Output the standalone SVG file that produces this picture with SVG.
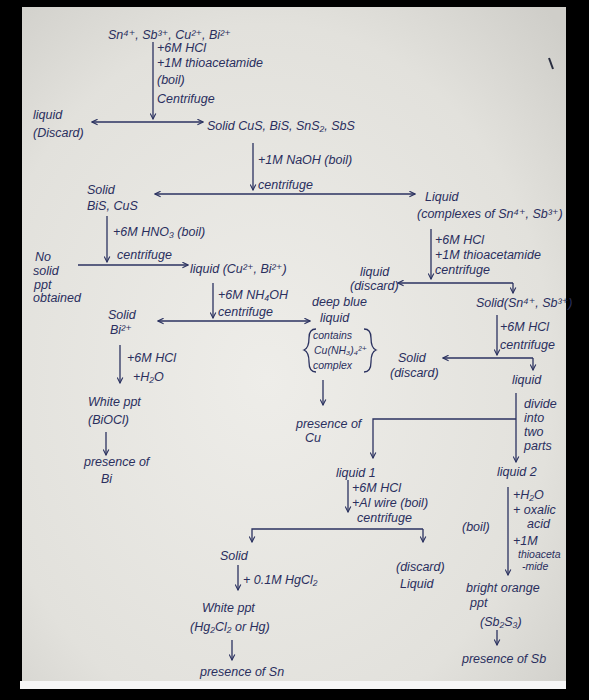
<svg xmlns="http://www.w3.org/2000/svg" width="589" height="700" viewBox="0 0 589 700">
<defs>
<radialGradient id="paper" cx="0.45" cy="0.55" r="0.75">
<stop offset="0" stop-color="#eeede9"/>
<stop offset="0.7" stop-color="#e2e1dc"/>
<stop offset="1" stop-color="#cfcec9"/>
</radialGradient>
<marker id="ah" viewBox="0 0 10 10" refX="9" refY="5" markerWidth="7" markerHeight="7" orient="auto" markerUnits="userSpaceOnUse">
<path d="M1,1 L9,5 L1,9" fill="none" stroke="#2b3260" stroke-width="1.6"/>
</marker>
<style>
.t{font-family:"Liberation Sans","DejaVu Sans",sans-serif;font-size:12.5px;fill:#2a2f5e;font-style:italic}
.s{font-size:10.5px}
.c{fill:none;stroke:#2b3260;stroke-width:1.3}
.a{marker-end:url(#ah)}
</style>
</defs>
<rect width="589" height="700" fill="#000"/>
<rect x="22" y="7" width="544" height="675" fill="url(#paper)"/>
<rect x="20" y="681" width="546" height="8" fill="#f6f6f6"/>
<path d="M549,58 L553,69" stroke="#2a2e40" stroke-width="2"/>

<g id="connectors">
<path class="c a" d="M153,42 V119"/>
<path class="c a" d="M153,122 H92"/>
<path class="c a" d="M153,122 H203"/>
<path class="c a" d="M253,143 V190"/>
<path class="c a" d="M253,194 H155"/>
<path class="c a" d="M253,194 H415"/>
<path class="c a" d="M107,216 V262"/>
<path class="c a" d="M78,265 H188"/>
<path class="c a" d="M431,229 V279"/>
<path class="c a" d="M513,283 H398"/>
<path class="c a" d="M513,283 V293"/>
<path class="c a" d="M213,283 V318"/>
<path class="c a" d="M213,321 H158"/>
<path class="c a" d="M213,321 H310"/>
<path class="c a" d="M120,345 V383"/>
<path class="c a" d="M106,432 V455"/>
<path class="c a" d="M323,380 V405"/>
<path class="c a" d="M497,315 V355"/>
<path class="c a" d="M533,358 H443"/>
<path class="c a" d="M533,358 V370"/>
<path class="c a" d="M516,393 V462"/>
<path class="c a" d="M516,419 H373 V458"/>
<path class="c a" d="M348,480 V512"/>
<path class="c a" d="M423,529 H252 V542"/>
<path class="c a" d="M423,529 V542"/>
<path class="c a" d="M238,565 V590"/>
<path class="c a" d="M232,640 V660"/>
<path class="c a" d="M508,487 V575"/>
<path class="c a" d="M497,630 V645"/>
</g>

<g id="n-start"><text class="t" x="108" y="39">Sn⁴⁺, Sb³⁺, Cu²⁺, Bi²⁺</text></g>
<g id="n-step1"><text class="t" x="157" y="52">+6M HCl</text><text class="t" x="157" y="67">+1M thioacetamide</text><text class="t" x="157" y="84">(boil)</text><text class="t" x="157" y="103">Centrifuge</text></g>
<g id="n-liq-discard"><text class="t" x="33" y="119">liquid</text><text class="t" x="33" y="137">(Discard)</text></g>
<g id="n-solid1"><text class="t" x="207" y="130">Solid CuS, BiS, SnS₂, SbS</text></g>
<g id="n-step2"><text class="t" x="258" y="164">+1M NaOH (boil)</text><text class="t" x="258" y="189">centrifuge</text></g>
<g id="n-solid2"><text class="t" x="87" y="194">Solid</text><text class="t" x="87" y="210">BiS, CuS</text></g>
<g id="n-liquid-complex"><text class="t" x="425" y="201">Liquid</text><text class="t" x="417" y="218">(complexes of Sn⁴⁺, Sb³⁺)</text></g>
<g id="n-step3"><text class="t" x="113" y="236">+6M HNO₃ (boil)</text><text class="t" x="117" y="259">centrifuge</text></g>
<g id="n-noppt"><text class="t" x="35" y="261">No</text><text class="t" x="33" y="275">solid</text><text class="t" x="34" y="289">ppt</text><text class="t" x="33" y="302">obtained</text></g>
<g id="n-liq-cubi"><text class="t" x="190" y="273">liquid (Cu²⁺, Bi²⁺)</text></g>
<g id="n-step4"><text class="t" x="435" y="244">+6M HCl</text><text class="t" x="435" y="259">+1M thioacetamide</text><text class="t" x="435" y="274">centrifuge</text></g>
<g id="n-liq-discard2"><text class="t" x="360" y="276">liquid</text><text class="t" x="350" y="290">(discard)</text></g>
<g id="n-solid-snsb"><text class="t" x="476" y="307" font-size="11">Solid(Sn⁴⁺, Sb³⁺)</text></g>
<g id="n-step5"><text class="t" x="218" y="299">+6M NH₄OH</text><text class="t" x="218" y="316">centrifuge</text></g>
<g id="n-solid-bi"><text class="t" x="108" y="319">Solid</text><text class="t" x="110" y="334">Bi²⁺</text></g>
<g id="n-deepblue"><text class="t" x="312" y="306">deep blue</text><text class="t" x="320" y="322">liquid</text>
<path class="c" d="M316,329 Q309,329 309,338 Q309,348 304,350 Q309,352 309,362 Q309,372 316,372"/>
<path class="c" d="M364,329 Q371,329 371,338 Q371,348 376,350 Q371,352 371,362 Q371,372 364,372"/>
<text class="t s" x="313" y="339">contains</text><text class="t s" x="314" y="354">Cu(NH₃)₄²⁺</text><text class="t s" x="313" y="369">complex</text></g>
<g id="n-pres-cu"><text class="t" x="296" y="428">presence of</text><text class="t" x="305" y="442">Cu</text></g>
<g id="n-step6"><text class="t" x="500" y="331">+6M HCl</text><text class="t" x="500" y="349">centrifuge</text></g>
<g id="n-solid-discard"><text class="t" x="398" y="362">Solid</text><text class="t" x="390" y="377">(discard)</text></g>
<g id="n-liquid"><text class="t" x="512" y="384">liquid</text></g>
<g id="n-divide"><text class="t" x="524" y="408">divide</text><text class="t" x="524" y="422">into</text><text class="t" x="524" y="436">two</text><text class="t" x="524" y="450">parts</text></g>
<g id="n-step7"><text class="t" x="127" y="362">+6M HCl</text><text class="t" x="133" y="381">+H₂O</text></g>
<g id="n-white-bi"><text class="t" x="88" y="406">White ppt</text><text class="t" x="88" y="424">(BiOCl)</text></g>
<g id="n-pres-bi"><text class="t" x="84" y="466">presence of</text><text class="t" x="101" y="483">Bi</text></g>
<g id="n-liquid1"><text class="t" x="336" y="477">liquid 1</text></g>
<g id="n-step8"><text class="t" x="352" y="492">+6M HCl</text><text class="t" x="352" y="507">+Al wire (boil)</text><text class="t" x="357" y="522">centrifuge</text></g>
<g id="n-liquid2"><text class="t" x="497" y="476">liquid 2</text></g>
<g id="n-step9"><text class="t" x="513" y="499">+H₂O</text><text class="t" x="513" y="514">+ oxalic</text><text class="t" x="527" y="528">acid</text><text class="t" x="513" y="545">+1M</text><text class="t s" x="518" y="558">thioaceta</text><text class="t s" x="522" y="570">-mide</text><text class="t" x="462" y="531">(boil)</text></g>
<g id="n-solid3"><text class="t" x="220" y="560">Solid</text></g>
<g id="n-liq-discard3"><text class="t" x="396" y="571">(discard)</text><text class="t" x="400" y="588">Liquid</text></g>
<g id="n-step10"><text class="t" x="243" y="584">+ 0.1M HgCl₂</text></g>
<g id="n-white-sn"><text class="t" x="202" y="612">White ppt</text><text class="t" x="190" y="631">(Hg₂Cl₂ or Hg)</text></g>
<g id="n-pres-sn"><text class="t" x="200" y="676">presence of Sn</text></g>
<g id="n-orange"><text class="t" x="466" y="592">bright orange</text><text class="t" x="470" y="607">ppt</text><text class="t" x="480" y="626">(Sb₂S₃)</text></g>
<g id="n-pres-sb"><text class="t" x="462" y="663">presence of Sb</text></g>
</svg>
